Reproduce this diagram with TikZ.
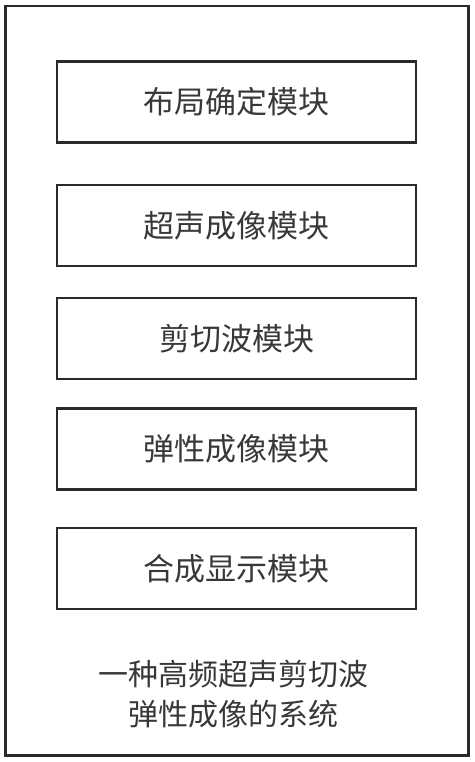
\documentclass[tikz,border=0pt]{standalone}
\usepackage{fontspec}
\newfontfamily\cjk{Noto Sans CJK SC}
\definecolor{ln}{HTML}{2A2A2A}
\definecolor{tx}{HTML}{383838}
\begin{document}
\begin{tikzpicture}[x=1pt,y=-1pt,
  modbox/.style={draw=ln,line width=2.6pt,minimum width=359pt,minimum height=81pt,inner sep=0pt,font=\cjk\fontsize{31}{36}\selectfont,text=tx},
  lbl/.style={font=\cjk\fontsize{30}{40}\selectfont,text=tx,align=center,inner sep=0pt}]
\useasboundingbox (0,0) rectangle (474,762);
\draw[ln,line width=2.6pt] (5.5,6) rectangle (468.5,755.5);
\node[modbox] (m1) at (236.5,102) {布局确定模块};
\node[modbox] (m2) at (236.5,225.5) {超声成像模块};
\node[modbox] (m3) at (236.5,338.5) {剪切波模块};
\node[modbox] (m4) at (236.5,449) {弹性成像模块};
\node[modbox] (m5) at (236.5,568.5) {合成显示模块};
\node[lbl] (t) at (233,694) {一种高频超声剪切波\\弹性成像的系统};
\end{tikzpicture}
\end{document}
